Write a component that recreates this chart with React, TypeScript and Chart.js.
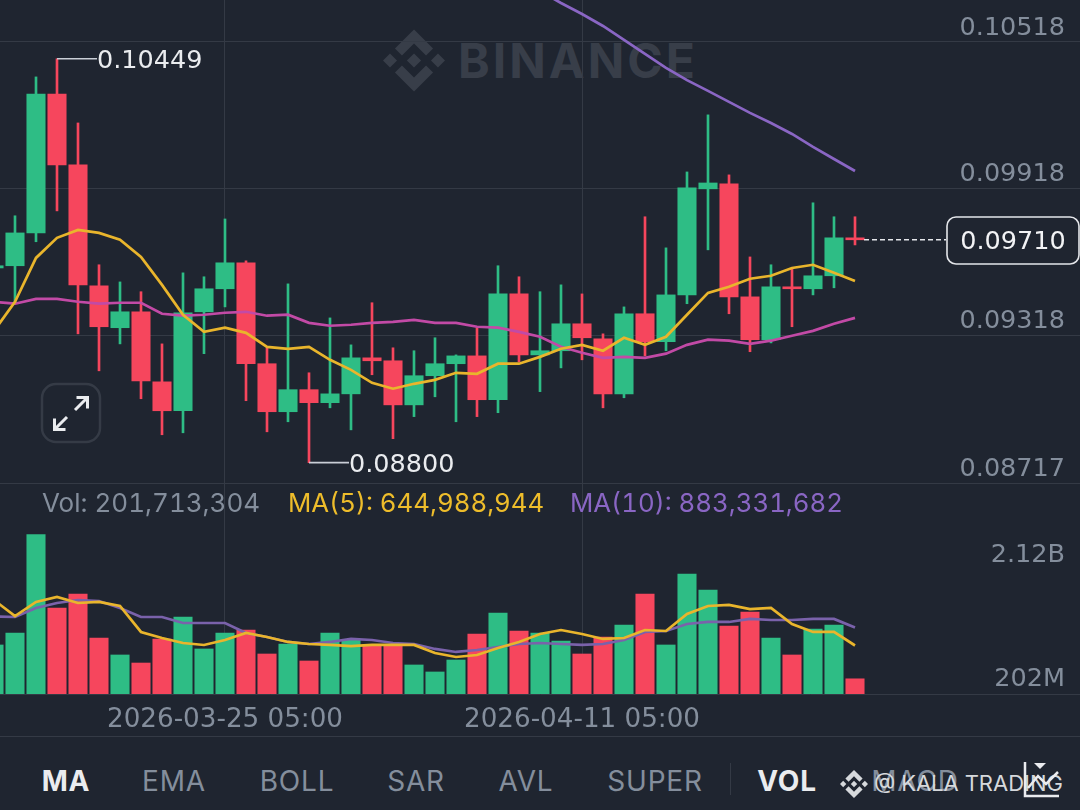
import React, { useEffect, useRef } from "react";
import { Chart, registerables } from "chart.js";

Chart.register(...registerables);

const FONT = "Inter, 'Noto Sans', sans-serif";
const AXIS_FONT = "'DejaVu Sans', sans-serif";
const AXIS_SIZE = 25.5;
const DATE_SIZE = 26.2;
const BG = "#1f2530";
const GRID = "#343a45";
const GREY = "#848e9c";
const UP = "#2ebd85";
const DOWN = "#f6465d";
const YELLOW = "#e9b52c";
const MAGENTA = "#c24aa6";
const PURPLE = "#8a66c4";
const VOL_PURPLE = "#7a62ab";

// ---- data: daily candles, first one is partly off the left edge ----
const opens = [0.09595, 0.09604, 0.09738, 0.10305, 0.10016, 0.09522, 0.09351, 0.09416, 0.0913, 0.09012, 0.09416, 0.0951, 0.09616, 0.09204, 0.09008, 0.09098, 0.09045, 0.09081, 0.09228, 0.09216, 0.09036, 0.09155, 0.09204, 0.09236, 0.09057, 0.09489, 0.0924, 0.09257, 0.09367, 0.09306, 0.09081, 0.09408, 0.09294, 0.09485, 0.09918, 0.09938, 0.09477, 0.09302, 0.09518, 0.0951, 0.09563, 0.09718];
const highs = [0.0962, 0.09808, 0.10375, 0.10449, 0.10187, 0.09608, 0.09538, 0.09498, 0.09285, 0.09575, 0.09559, 0.09795, 0.09624, 0.09269, 0.0953, 0.09167, 0.09391, 0.09281, 0.09453, 0.09269, 0.09257, 0.0931, 0.0924, 0.09351, 0.09604, 0.09559, 0.09498, 0.09526, 0.09489, 0.09326, 0.09436, 0.09804, 0.09677, 0.09987, 0.1022, 0.09975, 0.0964, 0.09608, 0.09595, 0.09861, 0.09804, 0.09804];
const lows = [0.0959, 0.09453, 0.09702, 0.09828, 0.09326, 0.09175, 0.09285, 0.09061, 0.08914, 0.08922, 0.09245, 0.09436, 0.09053, 0.08926, 0.08967, 0.088, 0.09024, 0.08934, 0.09159, 0.08898, 0.08988, 0.09069, 0.08967, 0.08988, 0.09004, 0.09212, 0.0909, 0.09187, 0.0922, 0.09024, 0.09065, 0.09236, 0.09257, 0.09449, 0.09669, 0.09408, 0.09253, 0.09289, 0.09355, 0.09485, 0.09514, 0.09689];
const closes = [0.09604, 0.09738, 0.10305, 0.10016, 0.09526, 0.09355, 0.09416, 0.09134, 0.09012, 0.09412, 0.0951, 0.09616, 0.09204, 0.09008, 0.09098, 0.09045, 0.09081, 0.09228, 0.09216, 0.09036, 0.09155, 0.09204, 0.09236, 0.09057, 0.09489, 0.0924, 0.09257, 0.09367, 0.0931, 0.09081, 0.09408, 0.09294, 0.09485, 0.09922, 0.09942, 0.09477, 0.09302, 0.09518, 0.0951, 0.09563, 0.09718, 0.0971];

const priceMa5 = [0.09338, 0.09457, 0.09636, 0.09718, 0.0975, 0.09738, 0.0971, 0.0964, 0.09526, 0.09404, 0.09334, 0.09351, 0.0933, 0.09273, 0.09265, 0.09273, 0.0922, 0.09179, 0.09126, 0.09102, 0.09122, 0.09138, 0.09167, 0.09163, 0.09204, 0.09204, 0.09232, 0.09265, 0.09281, 0.09257, 0.0931, 0.09281, 0.09314, 0.09404, 0.09493, 0.09518, 0.09551, 0.09563, 0.09595, 0.09608, 0.09575, 0.09542];
const priceMa10 = [0.09457, 0.09449, 0.09469, 0.09469, 0.09457, 0.09449, 0.09453, 0.09453, 0.09408, 0.094, 0.09404, 0.09412, 0.09416, 0.094, 0.09404, 0.09371, 0.09359, 0.09363, 0.09371, 0.09375, 0.09383, 0.09371, 0.09371, 0.09355, 0.09351, 0.09334, 0.09314, 0.09273, 0.09249, 0.09228, 0.09232, 0.09228, 0.09245, 0.09281, 0.09302, 0.09298, 0.09285, 0.09298, 0.09318, 0.09338, 0.09367, 0.09391];
const priceMa20Start = 25;
const priceMa20 = [0.1077, 0.10725, 0.10677, 0.10632, 0.10583, 0.10526, 0.10469, 0.10412, 0.10362, 0.10318, 0.10273, 0.10228, 0.10187, 0.10142, 0.10089, 0.1004, 0.09991];

// volumes in millions
const volumes = [652, 811, 2120, 1144, 1330, 745, 519, 412, 732, 1024, 599, 811, 851, 532, 665, 439, 811, 718, 652, 652, 386, 293, 452, 798, 1077, 838, 811, 705, 532, 758, 918, 1330, 652, 1596, 1383, 904, 1091, 745, 519, 865, 918, 202];
const volMa5 = [1250, 1037, 1224, 1290, 1210, 1224, 1170, 825, 745, 678, 652, 718, 811, 758, 692, 665, 652, 638, 652, 652, 652, 545, 492, 519, 612, 692, 798, 851, 798, 732, 745, 851, 838, 1064, 1170, 1184, 1130, 1144, 931, 825, 825, 645];
const volMa10 = [1030, 1024, 1144, 1210, 1250, 1237, 1144, 1024, 1024, 944, 944, 944, 811, 758, 692, 665, 692, 732, 718, 678, 665, 599, 559, 585, 625, 665, 678, 665, 652, 665, 718, 825, 838, 931, 958, 958, 998, 984, 984, 998, 998, 883];

const priceTicks = [0.08717, 0.09318, 0.09918, 0.10518];
const dateTickIndexes = [11, 28];
const dateTickLabels = ["2026-03-25 05:00", "2026-04-11 05:00"];
const volTickHigh = 2120;
const volTickHighLabel = "2.12B";
const volTickLow = 202;
const volTickLowLabel = "202M";
const highIndex = 3;
const highPrice = 0.10449;
const lowIndex = 15;
const lowPrice = 0.088;
const lastIndex = 41;
const lastPrice = 0.0971;

const tabs = [
  { t: "MA", x: 66, on: true },
  { t: "EMA", x: 174 },
  { t: "BOLL", x: 297 },
  { t: "SAR", x: 416 },
  { t: "AVL", x: 526 },
  { t: "SUPER", x: 655 },
  { t: "VOL", x: 787, on: true },
  { t: "MACD", x: 915 },
];

const X_MIN = 6 / 21;
const X_MAX = 1086 / 21;
const PRICE_MIN = 0.08717;
const PRICE_MAX = 0.10689;
const VOL_MAX = 2806;
const BODY_W = 18.4;
const WICK_W = 2;
const TICK_PAD = -15;

const colorOf = (i: number) => (closes[i] >= opens[i] ? UP : DOWN);
const candleColors = opens.map((_, i) => colorOf(i));
const pts = (arr: number[], start = 0) => arr.map((y, i) => ({ x: i + start, y }));
const line = (data: any[], color: string, yAxisID = "y") => ({
  type: "line" as const,
  data,
  borderColor: color,
  borderWidth: 2.7,
  pointRadius: 0,
  tension: 0,
  order: 0,
  yAxisID,
});

// The axes sit inside the plot, so they must not reserve room around it.
const noPadding = (s: any) => {
  s.paddingTop = 0;
  s.paddingBottom = 0;
  s.paddingLeft = 0;
  s.paddingRight = 0;
};
const fitY = (s: any) => {
  noPadding(s);
  s.width = 0;
};
const fitX = (height: number) => (s: any) => {
  noPadding(s);
  s.height = height;
};

const xAxisBase = {
  type: "linear" as const,
  min: X_MIN,
  max: X_MAX,
  bounds: "data" as const,
  offset: false,
  afterBuildTicks: (s: any) => {
    s.ticks = dateTickIndexes.map((value) => ({ value }));
  },
};

const annotate = {
  id: "annotate",
  afterDatasetsDraw(chart: any) {
    const { ctx, scales } = chart;
    const { x, y } = scales;
    ctx.save();
    ctx.font = `${AXIS_SIZE}px ${AXIS_FONT}`;
    ctx.textBaseline = "middle";
    const mark = (i: number, p: number) => {
      const px = x.getPixelForValue(i);
      const py = y.getPixelForValue(p);
      ctx.strokeStyle = "#c9ced6";
      ctx.lineWidth = 1.6;
      ctx.beginPath();
      ctx.moveTo(px, py);
      ctx.lineTo(px + 40, py);
      ctx.stroke();
      ctx.fillStyle = "#eaecef";
      ctx.textAlign = "left";
      ctx.fillText(p.toFixed(5), px + 40, py + 3);
    };
    mark(highIndex, highPrice);
    mark(lowIndex, lowPrice);

    const lx = x.getPixelForValue(lastIndex) + 9;
    const ly = y.getPixelForValue(lastPrice);
    ctx.strokeStyle = "#e4e6ea";
    ctx.lineWidth = 1.4;
    ctx.setLineDash([5, 3]);
    ctx.beginPath();
    ctx.moveTo(lx, ly);
    ctx.lineTo(946, ly);
    ctx.stroke();
    ctx.setLineDash([]);
    ctx.lineWidth = 1.6;
    ctx.fillStyle = BG;
    ctx.beginPath();
    ctx.roundRect(947, 217, 132, 47, 9);
    ctx.fill();
    ctx.stroke();
    ctx.fillStyle = "#f2f3f5";
    ctx.textAlign = "center";
    ctx.fillText(lastPrice.toFixed(5), 1013, ly + 3);
    ctx.restore();
  },
};

const LOGO =
  "M38.73 53.2l24.59-24.58 24.6 24.6 14.3-14.31L63.32 0 24.42 38.9l14.31 14.3zM0 63.31l14.3-14.31 14.31 14.31-14.31 14.3zM38.73 73.41l24.59 24.59 24.6-24.6 14.31 14.29-38.9 38.91-38.91-38.88v-.03zM98 63.31l14.3-14.31 14.31 14.3-14.31 14.32zM77.83 63.3L63.32 48.78 52.59 59.51l-1.24 1.23-2.54 2.54 14.51 14.5 14.51-14.47z";

const abs = (o: React.CSSProperties): React.CSSProperties => ({ position: "absolute", whiteSpace: "nowrap", ...o });

export default function App() {
  const priceRef = useRef<HTMLCanvasElement>(null);
  const volRef = useRef<HTMLCanvasElement>(null);

  useEffect(() => {
    document.body.style.margin = "0";
    document.body.style.background = BG;

    const price = new Chart(priceRef.current!, {
      type: "bar",
      data: {
        datasets: [
          line(pts(priceMa5), YELLOW),
          line(pts(priceMa10), MAGENTA),
          line(pts(priceMa20, priceMa20Start), PURPLE),
          {
            type: "bar" as const,
            data: opens.map((o, i) => ({ x: i, y: [o, closes[i]] })),
            backgroundColor: candleColors,
            barThickness: BODY_W,
            grouped: false,
            order: 1,
          },
          {
            type: "bar" as const,
            data: lows.map((l, i) => ({ x: i, y: [l, highs[i]] })),
            backgroundColor: candleColors,
            barThickness: WICK_W,
            grouped: false,
            order: 2,
          },
        ] as any,
      },
      options: {
        responsive: false,
        animation: false,
        layout: { autoPadding: false, padding: { bottom: 3 } },
        plugins: { legend: { display: false }, tooltip: { enabled: false } },
        scales: {
          x: {
            ...xAxisBase,
            grid: { color: GRID, drawTicks: false, offset: false },
            border: { display: false },
            ticks: { display: false, autoSkip: false },
            afterFit: fitX(0),
          },
          y: {
            type: "linear",
            position: "right",
            min: PRICE_MIN,
            max: PRICE_MAX,
            bounds: "data",
            grid: { color: GRID, drawTicks: false },
            border: { display: false },
            afterFit: fitY,
            afterBuildTicks: (s: any) => {
              s.ticks = priceTicks.map((value) => ({ value }));
            },
            ticks: {
              mirror: true,
              autoSkip: false,
              padding: TICK_PAD,
              labelOffset: -14,
              color: GREY,
              font: { family: AXIS_FONT, size: AXIS_SIZE },
              callback: (v: any) => Number(v).toFixed(5),
            },
          },
        } as any,
      },
      plugins: [annotate],
    });

    const vol = new Chart(volRef.current!, {
      type: "bar",
      data: {
        datasets: [
          line(pts(volMa5), YELLOW),
          line(pts(volMa10), VOL_PURPLE),
          {
            type: "bar" as const,
            data: volumes.map((v, i) => ({ x: i, y: v })),
            backgroundColor: candleColors,
            barThickness: BODY_W,
            grouped: false,
            order: 1,
          },
        ] as any,
      },
      options: {
        responsive: false,
        animation: false,
        layout: { autoPadding: false },
        plugins: { legend: { display: false }, tooltip: { enabled: false } },
        scales: {
          x: {
            ...xAxisBase,
            grid: { color: GRID, drawTicks: false, offset: false },
            border: { display: true, color: GRID },
            ticks: {
              autoSkip: false,
              maxRotation: 0,
              padding: 10,
              color: GREY,
              font: { family: AXIS_FONT, size: DATE_SIZE },
              callback: (v: any) => dateTickLabels[dateTickIndexes.indexOf(Number(v))],
            },
            afterFit: fitX(42),
          },
          y: {
            type: "linear",
            position: "right",
            min: 0,
            max: VOL_MAX,
            bounds: "data",
            grid: { display: false },
            border: { display: false },
            afterFit: fitY,
            afterBuildTicks: (s: any) => {
              s.ticks = [{ value: volTickHigh }];
            },
            ticks: {
              mirror: true,
              autoSkip: false,
              padding: TICK_PAD,
              labelOffset: 21,
              color: GREY,
              font: { family: AXIS_FONT, size: AXIS_SIZE },
              callback: () => volTickHighLabel,
            },
          },
          y2: {
            type: "linear",
            position: "right",
            min: 0,
            max: VOL_MAX,
            bounds: "data",
            grid: { display: false },
            border: { display: false },
            afterFit: fitY,
            afterBuildTicks: (s: any) => {
              s.ticks = [{ value: volTickLow }];
            },
            ticks: {
              mirror: true,
              autoSkip: false,
              padding: TICK_PAD,
              labelOffset: 1,
              color: GREY,
              font: { family: AXIS_FONT, size: AXIS_SIZE },
              callback: () => volTickLowLabel,
            },
          },
        } as any,
      },
    });

    return () => {
      price.destroy();
      vol.destroy();
    };
  }, []);

  return (
    <div style={{ position: "fixed", left: 0, top: 0, width: 1080, height: 810, overflow: "hidden", background: BG, fontFamily: FONT, fontVariantNumeric: "tabular-nums" }}>
      {/* watermark under the charts */}
      <svg style={{ position: "absolute", left: 383, top: 29 }} width={62} height={63} viewBox="0 0 126.61 126.61">
        <path d={LOGO} fill="#383e49" />
      </svg>
      <div style={abs({ left: 458, top: 31, fontSize: 48, fontWeight: 700, color: "#383e49", letterSpacing: 3 })}>BINANCE</div>

      <canvas ref={priceRef} width={1080} height={486} style={{ position: "absolute", left: 0, top: 0, display: "block" }} />
      <canvas ref={volRef} width={1080} height={253} style={{ position: "absolute", left: 0, top: 483, display: "block" }} />

      {/* indicator row */}
      <div style={abs({ left: 42, top: 487, fontSize: 26, color: GREY })}>Vol: 201,713,304</div>
      <div style={abs({ left: 288, top: 487, fontSize: 25.8, color: "#eebd2b" })}>MA(5): 644,988,944</div>
      <div style={abs({ left: 570, top: 487, fontSize: 25.8, color: PURPLE })}>MA(10): 883,331,682</div>

      {/* expand button */}
      <svg style={{ position: "absolute", left: 40, top: 382 }} width={62} height={62} viewBox="0 0 62 62" fill="none">
        <rect x={2} y={2} width={58} height={58} rx={14} stroke="#353b46" strokeWidth={2.5} />
        <g stroke="#eaecef" strokeWidth={3}>
          <path d="M35 28 L47 16" />
          <path d="M36.5 15.5 H47.5 V26.5" />
          <path d="M27 35 L15 47" />
          <path d="M14.5 36.5 V47.5 H25.5" />
        </g>
      </svg>

      <div style={{ position: "absolute", left: 0, top: 736, width: 1080, height: 1, background: GRID }} />

      {/* indicator tabs */}
      {tabs.map((tab) => (
        <div
          key={tab.t}
          style={abs({
            left: tab.x,
            top: 781,
            transform: "translate(-50%,-50%)",
            fontSize: 28,
            letterSpacing: 0.8,
            fontWeight: tab.on ? 700 : 400,
            color: tab.on ? "#eaecef" : GREY,
          })}
        >
          {tab.t}
        </div>
      ))}
      <div style={{ position: "absolute", left: 730, top: 763, width: 1, height: 32, background: "#343a45" }} />

      {/* overlaid watermark and icon */}
      <svg style={{ position: "absolute", left: 840, top: 770 }} width={28} height={28} viewBox="0 0 126.61 126.61">
        <path d={LOGO} fill="#d6d9dc" />
      </svg>
      <div style={abs({ left: 874, top: 770, fontSize: 22, color: "#d6d9dc" })}>@ KALA TRADING</div>
      <svg style={{ position: "absolute", left: 1020, top: 760 }} width={44} height={40} viewBox="0 0 44 40" fill="none" stroke="#eaecef" strokeWidth={2.5}>
        <path d="M5 2 V36 H39" />
        <path d="M8 28 L18 16 L26 24 L38 12" />
        <path d="M14 3 H26 L20 9 Z" fill="#eaecef" stroke="none" />
      </svg>
    </div>
  );
}
